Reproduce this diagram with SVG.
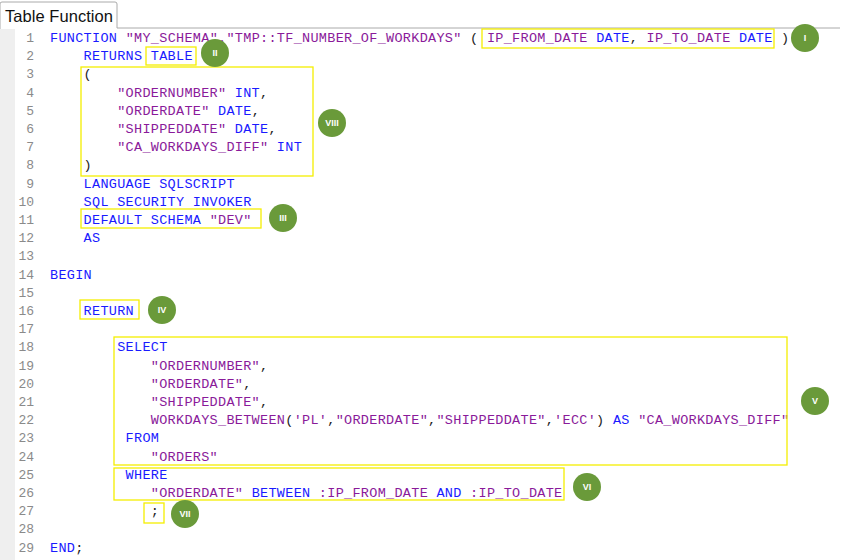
<svg xmlns="http://www.w3.org/2000/svg" width="841" height="560" viewBox="0 0 841 560">
<style>
.c{font-family:"Liberation Mono",monospace;font-size:13.5px;letter-spacing:0.3px;fill:#222}
.k{fill:#1a1aff}.s{fill:#8a1a9a}
.n{font-family:"Liberation Mono",monospace;font-size:13px;fill:#8a8a8a;text-anchor:end}
.hb{fill:none;stroke:#f5ef00;stroke-width:1.3}
.b{fill:#6a9a3a}
.bt{font-family:"Liberation Sans",sans-serif;font-size:9px;font-weight:bold;fill:#fff;text-anchor:middle}
</style>
<rect width="841" height="560" fill="#fff"/>
<rect x="0" y="29" width="15" height="531" fill="#efefef"/>
<path d="M0,29 V4 Q0,2 2,2 H115 Q117,2 117,4 V28 H840" fill="none" stroke="#aaa"/>
<text x="5" y="22" font-family="Liberation Sans,sans-serif" font-size="16.5" fill="#111" textLength="108">Table Function</text>
<g id="lines">
<text class="n" x="34" y="42">1</text><text class="n" x="34" y="60">2</text><text class="n" x="34" y="78">3</text><text class="n" x="34" y="97">4</text><text class="n" x="34" y="115">5</text><text class="n" x="34" y="133">6</text><text class="n" x="34" y="151">7</text><text class="n" x="34" y="169">8</text><text class="n" x="34" y="188">9</text><text class="n" x="34" y="206">10</text><text class="n" x="34" y="224">11</text><text class="n" x="34" y="242">12</text><text class="n" x="34" y="260">13</text><text class="n" x="34" y="279">14</text><text class="n" x="34" y="297">15</text><text class="n" x="34" y="315">16</text><text class="n" x="34" y="333">17</text><text class="n" x="34" y="351">18</text><text class="n" x="34" y="370">19</text><text class="n" x="34" y="388">20</text><text class="n" x="34" y="406">21</text><text class="n" x="34" y="424">22</text><text class="n" x="34" y="442">23</text><text class="n" x="34" y="461">24</text><text class="n" x="34" y="479">25</text><text class="n" x="34" y="497">26</text><text class="n" x="34" y="515">27</text><text class="n" x="34" y="533">28</text><text class="n" x="34" y="552">29</text>
</g>
<g id="code" xml:space="preserve">
<text class="c" x="50" y="42"><tspan class="k">FUNCTION</tspan> <tspan class="s">"MY_SCHEMA"."TMP::TF_NUMBER_OF_WORKDAYS"</tspan> ( <tspan class="s">IP_FROM_DATE</tspan> <tspan class="k">DATE</tspan>, <tspan class="s">IP_TO_DATE</tspan> <tspan class="k">DATE</tspan> )</text>
<text class="c" x="83.6" y="60"><tspan class="k">RETURNS TABLE</tspan></text>
<text class="c" x="83.6" y="78">(</text>
<text class="c" x="117.2" y="97"><tspan class="s">"ORDERNUMBER"</tspan> <tspan class="k">INT</tspan>,</text>
<text class="c" x="117.2" y="115"><tspan class="s">"ORDERDATE"</tspan> <tspan class="k">DATE</tspan>,</text>
<text class="c" x="117.2" y="133"><tspan class="s">"SHIPPEDDATE"</tspan> <tspan class="k">DATE</tspan>,</text>
<text class="c" x="117.2" y="151"><tspan class="s">"CA_WORKDAYS_DIFF"</tspan> <tspan class="k">INT</tspan></text>
<text class="c" x="83.6" y="169">)</text>
<text class="c" x="83.6" y="188"><tspan class="k">LANGUAGE SQLSCRIPT</tspan></text>
<text class="c" x="83.6" y="206"><tspan class="k">SQL SECURITY INVOKER</tspan></text>
<text class="c" x="83.6" y="224"><tspan class="k">DEFAULT SCHEMA</tspan> <tspan class="s">"DEV"</tspan></text>
<text class="c" x="83.6" y="242"><tspan class="k">AS</tspan></text>
<text class="c" x="50" y="279"><tspan class="k">BEGIN</tspan></text>
<text class="c" x="83.6" y="315"><tspan class="k">RETURN</tspan></text>
<text class="c" x="117.2" y="351"><tspan class="k">SELECT</tspan></text>
<text class="c" x="150.8" y="370"><tspan class="s">"ORDERNUMBER"</tspan>,</text>
<text class="c" x="150.8" y="388"><tspan class="s">"ORDERDATE"</tspan>,</text>
<text class="c" x="150.8" y="406"><tspan class="s">"SHIPPEDDATE"</tspan>,</text>
<text class="c" x="150.8" y="424"><tspan class="s">WORKDAYS_BETWEEN</tspan>(<tspan class="s">'PL'</tspan>,<tspan class="s">"ORDERDATE"</tspan>,<tspan class="s">"SHIPPEDDATE"</tspan>,<tspan class="s">'ECC'</tspan>) <tspan class="k">AS</tspan> <tspan class="s">"CA_WORKDAYS_DIFF"</tspan></text>
<text class="c" x="125.6" y="442"><tspan class="k">FROM</tspan></text>
<text class="c" x="150.8" y="461"><tspan class="s">"ORDERS"</tspan></text>
<text class="c" x="125.6" y="479"><tspan class="k">WHERE</tspan></text>
<text class="c" x="150.8" y="497"><tspan class="s">"ORDERDATE"</tspan> <tspan class="k">BETWEEN</tspan> <tspan class="s">:IP_FROM_DATE</tspan> <tspan class="k">AND</tspan> <tspan class="s">:IP_TO_DATE</tspan></text>
<text class="c" x="150.8" y="515">;</text>
<text class="c" x="50" y="552"><tspan class="k">END</tspan>;</text>
</g>
<g id="boxes">
<rect class="hb" x="482" y="29" width="292" height="19"/>
<rect class="hb" x="146" y="47" width="50" height="18"/>
<rect class="hb" x="81" y="67" width="232" height="109"/>
<rect class="hb" x="81" y="209" width="180" height="19"/>
<rect class="hb" x="80" y="300" width="59" height="19"/>
<rect class="hb" x="114" y="337" width="673" height="128"/>
<rect class="hb" x="114" y="468" width="450" height="32"/>
<rect class="hb" x="144" y="503" width="20" height="20"/>
</g>
<g id="badge-I"><circle class="b" cx="805" cy="38" r="14"/><text class="bt" x="805" y="41">I</text></g>
<g id="badge-II"><circle class="b" cx="215" cy="53" r="14"/><text class="bt" x="215" y="56">II</text></g>
<g id="badge-VIII"><circle class="b" cx="332" cy="123" r="14"/><text class="bt" x="332" y="126">VIII</text></g>
<g id="badge-III"><circle class="b" cx="283" cy="218" r="14"/><text class="bt" x="283" y="221">III</text></g>
<g id="badge-IV"><circle class="b" cx="162" cy="310" r="14"/><text class="bt" x="162" y="313">IV</text></g>
<g id="badge-V"><circle class="b" cx="815" cy="401" r="14"/><text class="bt" x="815" y="404">V</text></g>
<g id="badge-VI"><circle class="b" cx="587" cy="487" r="14"/><text class="bt" x="587" y="490">VI</text></g>
<g id="badge-VII"><circle class="b" cx="185" cy="514" r="14"/><text class="bt" x="185" y="517">VII</text></g>
</svg>
